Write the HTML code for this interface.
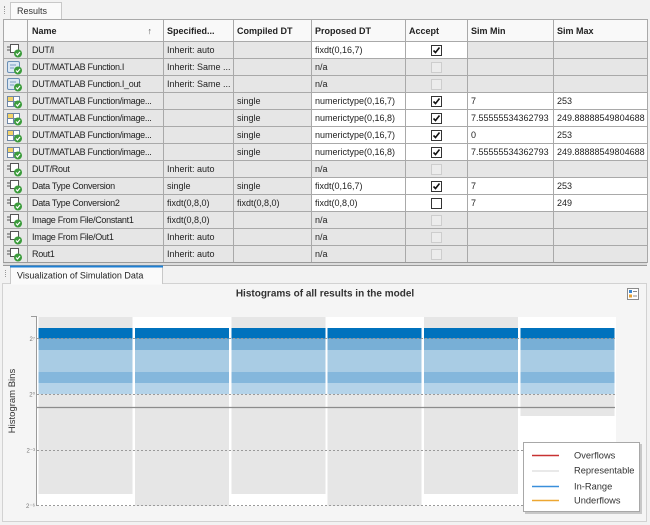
<!DOCTYPE html>
<html><head><meta charset="utf-8">
<style>
html,body{margin:0;padding:0}
body{width:650px;height:525px;overflow:hidden;background:#f2f2f2;position:relative;font-family:"Liberation Sans",Arial,sans-serif;color:#222}
.tab1{position:absolute;left:10px;top:2px;width:51px;height:17px;background:#fafafa;border:1px solid #c8c8c8;border-bottom:none;font-size:9px;line-height:17px;padding-left:6px;box-sizing:border-box;width:52px;color:#333}
.grip{position:absolute;width:1px;border-left:1px dotted #999}
table{position:absolute;left:3px;top:19px;width:644px;border-collapse:collapse;table-layout:fixed;border:1px solid #8f8f8f}
td,th{border:1px solid #a9a9a9;font-size:9px;white-space:nowrap;overflow:hidden;padding:0 0 0 3px;vertical-align:middle;text-align:left}
th{background:#f9f9f9;font-weight:bold;color:#222}
tr.h{height:22px}
tr.r{height:17px}
td{background:#e6e6e6;line-height:14px}
td.w{background:#fff}
td.n{padding-left:4px;letter-spacing:-0.3px}
td.i{padding:0 0 0 2px}
td.i svg{display:block}
td.c{padding:0;text-align:center}
td.c svg{display:block;margin:0 auto}
.arr{float:right;margin-right:11px;font-weight:bold;color:#555}
.split{position:absolute;left:3px;top:262px;width:644px;height:2px;background:#dcdcdc;border-top:1px solid #9a9a9a;border-bottom:1px solid #9a9a9a}
</style></head><body>

<div class="grip" style="left:4px;top:6px;height:8px"></div>
<div class="tab1">Results</div>

<table>
<colgroup><col style="width:24px"><col style="width:136px"><col style="width:70px"><col style="width:78px"><col style="width:94px"><col style="width:62px"><col style="width:86px"><col style="width:94px"></colgroup>
<tr class="h"><th></th><th style="padding-left:4px">Name<span class="arr">↑</span></th><th>Specified...</th><th>Compiled DT</th><th>Proposed DT</th><th>Accept</th><th>Sim Min</th><th>Sim Max</th></tr>

<tr class="r"><td class="i"><svg width="18" height="15" viewBox="0 0 18 15"><path d="M1 4h4M1 7h4" stroke="#555"/><rect x="4.5" y="1.5" width="8" height="8" fill="#fff" stroke="#555"/><circle cx="12" cy="10.5" r="4" fill="#3c9c3c"/><path d="M10 10.5l1.5 1.5 2.5-3" stroke="#fff" fill="none" stroke-width="1.2"/></svg></td><td class="n">DUT/I</td><td>Inherit: auto</td><td></td><td class="w">fixdt(0,16,7)</td><td class="c w"><svg width="11" height="11"><rect x="0.5" y="0.5" width="10" height="10" fill="#fff" stroke="#333"/><path d="M2.5 5.5l2 2 4-5" stroke="#111" stroke-width="1.6" fill="none"/></svg></td><td></td><td></td></tr>

<tr class="r"><td class="i"><svg width="18" height="15" viewBox="0 0 18 15"><rect x="1.5" y="1.5" width="12" height="11" rx="1.5" fill="#dbe7f3" stroke="#6a8fb5"/><path d="M4 5h6M4 8h4" stroke="#7a9cc0"/><circle cx="12" cy="10.5" r="4" fill="#3c9c3c"/><path d="M10 10.5l1.5 1.5 2.5-3" stroke="#fff" fill="none" stroke-width="1.2"/></svg></td><td class="n">DUT/MATLAB Function.I</td><td>Inherit: Same ...</td><td></td><td>n/a</td><td class="c"><svg width="11" height="11"><rect x="0.5" y="0.5" width="10" height="10" fill="#ececec" stroke="#cdcdcd"/></svg></td><td></td><td></td></tr>

<tr class="r"><td class="i"><svg width="18" height="15" viewBox="0 0 18 15"><rect x="1.5" y="1.5" width="12" height="11" rx="1.5" fill="#dbe7f3" stroke="#6a8fb5"/><path d="M4 5h6M4 8h4" stroke="#7a9cc0"/><circle cx="12" cy="10.5" r="4" fill="#3c9c3c"/><path d="M10 10.5l1.5 1.5 2.5-3" stroke="#fff" fill="none" stroke-width="1.2"/></svg></td><td class="n">DUT/MATLAB Function.I_out</td><td>Inherit: Same ...</td><td></td><td>n/a</td><td class="c"><svg width="11" height="11"><rect x="0.5" y="0.5" width="10" height="10" fill="#ececec" stroke="#cdcdcd"/></svg></td><td></td><td></td></tr>

<tr class="r"><td class="i"><svg width="18" height="15" viewBox="0 0 18 15"><rect x="1.5" y="2.5" width="12" height="10" fill="#fff" stroke="#6f86a3"/><rect x="2" y="3" width="5.5" height="4.5" fill="#f3d36a"/><rect x="7.5" y="7.5" width="5.5" height="4.5" fill="#8fb6e0"/><path d="M7.5 2.5v10M1.5 7.5h12" stroke="#6f86a3"/><circle cx="12" cy="10.5" r="4" fill="#3c9c3c"/><path d="M10 10.5l1.5 1.5 2.5-3" stroke="#fff" fill="none" stroke-width="1.2"/></svg></td><td class="n">DUT/MATLAB Function/image...</td><td></td><td>single</td><td class="w">numerictype(0,16,7)</td><td class="c w"><svg width="11" height="11"><rect x="0.5" y="0.5" width="10" height="10" fill="#fff" stroke="#333"/><path d="M2.5 5.5l2 2 4-5" stroke="#111" stroke-width="1.6" fill="none"/></svg></td><td class="w">7</td><td class="w">253</td></tr>

<tr class="r"><td class="i"><svg width="18" height="15" viewBox="0 0 18 15"><rect x="1.5" y="2.5" width="12" height="10" fill="#fff" stroke="#6f86a3"/><rect x="2" y="3" width="5.5" height="4.5" fill="#f3d36a"/><rect x="7.5" y="7.5" width="5.5" height="4.5" fill="#8fb6e0"/><path d="M7.5 2.5v10M1.5 7.5h12" stroke="#6f86a3"/><circle cx="12" cy="10.5" r="4" fill="#3c9c3c"/><path d="M10 10.5l1.5 1.5 2.5-3" stroke="#fff" fill="none" stroke-width="1.2"/></svg></td><td class="n">DUT/MATLAB Function/image...</td><td></td><td>single</td><td class="w">numerictype(0,16,8)</td><td class="c w"><svg width="11" height="11"><rect x="0.5" y="0.5" width="10" height="10" fill="#fff" stroke="#333"/><path d="M2.5 5.5l2 2 4-5" stroke="#111" stroke-width="1.6" fill="none"/></svg></td><td class="w">7.55555534362793</td><td class="w">249.88888549804688</td></tr>

<tr class="r"><td class="i"><svg width="18" height="15" viewBox="0 0 18 15"><rect x="1.5" y="2.5" width="12" height="10" fill="#fff" stroke="#6f86a3"/><rect x="2" y="3" width="5.5" height="4.5" fill="#f3d36a"/><rect x="7.5" y="7.5" width="5.5" height="4.5" fill="#8fb6e0"/><path d="M7.5 2.5v10M1.5 7.5h12" stroke="#6f86a3"/><circle cx="12" cy="10.5" r="4" fill="#3c9c3c"/><path d="M10 10.5l1.5 1.5 2.5-3" stroke="#fff" fill="none" stroke-width="1.2"/></svg></td><td class="n">DUT/MATLAB Function/image...</td><td></td><td>single</td><td class="w">numerictype(0,16,7)</td><td class="c w"><svg width="11" height="11"><rect x="0.5" y="0.5" width="10" height="10" fill="#fff" stroke="#333"/><path d="M2.5 5.5l2 2 4-5" stroke="#111" stroke-width="1.6" fill="none"/></svg></td><td class="w">0</td><td class="w">253</td></tr>

<tr class="r"><td class="i"><svg width="18" height="15" viewBox="0 0 18 15"><rect x="1.5" y="2.5" width="12" height="10" fill="#fff" stroke="#6f86a3"/><rect x="2" y="3" width="5.5" height="4.5" fill="#f3d36a"/><rect x="7.5" y="7.5" width="5.5" height="4.5" fill="#8fb6e0"/><path d="M7.5 2.5v10M1.5 7.5h12" stroke="#6f86a3"/><circle cx="12" cy="10.5" r="4" fill="#3c9c3c"/><path d="M10 10.5l1.5 1.5 2.5-3" stroke="#fff" fill="none" stroke-width="1.2"/></svg></td><td class="n">DUT/MATLAB Function/image...</td><td></td><td>single</td><td class="w">numerictype(0,16,8)</td><td class="c w"><svg width="11" height="11"><rect x="0.5" y="0.5" width="10" height="10" fill="#fff" stroke="#333"/><path d="M2.5 5.5l2 2 4-5" stroke="#111" stroke-width="1.6" fill="none"/></svg></td><td class="w">7.55555534362793</td><td class="w">249.88888549804688</td></tr>

<tr class="r"><td class="i"><svg width="18" height="15" viewBox="0 0 18 15"><path d="M1 4h4M1 7h4" stroke="#555"/><rect x="4.5" y="1.5" width="8" height="8" fill="#fff" stroke="#555"/><circle cx="12" cy="10.5" r="4" fill="#3c9c3c"/><path d="M10 10.5l1.5 1.5 2.5-3" stroke="#fff" fill="none" stroke-width="1.2"/></svg></td><td class="n">DUT/Rout</td><td>Inherit: auto</td><td></td><td>n/a</td><td class="c"><svg width="11" height="11"><rect x="0.5" y="0.5" width="10" height="10" fill="#ececec" stroke="#cdcdcd"/></svg></td><td></td><td></td></tr>

<tr class="r"><td class="i"><svg width="18" height="15" viewBox="0 0 18 15"><path d="M1 4h4M1 7h4" stroke="#555"/><rect x="4.5" y="1.5" width="8" height="8" fill="#fff" stroke="#555"/><circle cx="12" cy="10.5" r="4" fill="#3c9c3c"/><path d="M10 10.5l1.5 1.5 2.5-3" stroke="#fff" fill="none" stroke-width="1.2"/></svg></td><td class="n">Data Type Conversion</td><td>single</td><td>single</td><td class="w">fixdt(0,16,7)</td><td class="c w"><svg width="11" height="11"><rect x="0.5" y="0.5" width="10" height="10" fill="#fff" stroke="#333"/><path d="M2.5 5.5l2 2 4-5" stroke="#111" stroke-width="1.6" fill="none"/></svg></td><td class="w">7</td><td class="w">253</td></tr>

<tr class="r"><td class="i"><svg width="18" height="15" viewBox="0 0 18 15"><path d="M1 4h4M1 7h4" stroke="#555"/><rect x="4.5" y="1.5" width="8" height="8" fill="#fff" stroke="#555"/><circle cx="12" cy="10.5" r="4" fill="#3c9c3c"/><path d="M10 10.5l1.5 1.5 2.5-3" stroke="#fff" fill="none" stroke-width="1.2"/></svg></td><td class="n">Data Type Conversion2</td><td>fixdt(0,8,0)</td><td>fixdt(0,8,0)</td><td class="w">fixdt(0,8,0)</td><td class="c w"><svg width="11" height="11"><rect x="0.5" y="0.5" width="10" height="10" fill="#fff" stroke="#333"/></svg></td><td class="w">7</td><td class="w">249</td></tr>

<tr class="r"><td class="i"><svg width="18" height="15" viewBox="0 0 18 15"><path d="M1 4h4M1 7h4" stroke="#555"/><rect x="4.5" y="1.5" width="8" height="8" fill="#fff" stroke="#555"/><circle cx="12" cy="10.5" r="4" fill="#3c9c3c"/><path d="M10 10.5l1.5 1.5 2.5-3" stroke="#fff" fill="none" stroke-width="1.2"/></svg></td><td class="n">Image From File/Constant1</td><td>fixdt(0,8,0)</td><td></td><td>n/a</td><td class="c"><svg width="11" height="11"><rect x="0.5" y="0.5" width="10" height="10" fill="#ececec" stroke="#cdcdcd"/></svg></td><td></td><td></td></tr>

<tr class="r"><td class="i"><svg width="18" height="15" viewBox="0 0 18 15"><path d="M1 4h4M1 7h4" stroke="#555"/><rect x="4.5" y="1.5" width="8" height="8" fill="#fff" stroke="#555"/><circle cx="12" cy="10.5" r="4" fill="#3c9c3c"/><path d="M10 10.5l1.5 1.5 2.5-3" stroke="#fff" fill="none" stroke-width="1.2"/></svg></td><td class="n">Image From File/Out1</td><td>Inherit: auto</td><td></td><td>n/a</td><td class="c"><svg width="11" height="11"><rect x="0.5" y="0.5" width="10" height="10" fill="#ececec" stroke="#cdcdcd"/></svg></td><td></td><td></td></tr>

<tr class="r"><td class="i"><svg width="18" height="15" viewBox="0 0 18 15"><path d="M1 4h4M1 7h4" stroke="#555"/><rect x="4.5" y="1.5" width="8" height="8" fill="#fff" stroke="#555"/><circle cx="12" cy="10.5" r="4" fill="#3c9c3c"/><path d="M10 10.5l1.5 1.5 2.5-3" stroke="#fff" fill="none" stroke-width="1.2"/></svg></td><td class="n">Rout1</td><td>Inherit: auto</td><td></td><td>n/a</td><td class="c"><svg width="11" height="11"><rect x="0.5" y="0.5" width="10" height="10" fill="#ececec" stroke="#cdcdcd"/></svg></td><td></td><td></td></tr>
</table>

<div class="split"></div>

<svg width="650" height="525" style="position:absolute;left:0;top:0" font-family="Liberation Sans, Arial, sans-serif">
  <!-- panel -->
  <rect x="2.5" y="283.5" width="644" height="238" fill="#f5f5f5" stroke="#d2d2d2"/>
  <!-- tab -->
  <rect x="10.5" y="266.5" width="152" height="17" fill="#fafafa" stroke="#c8c8c8"/>
  <rect x="11" y="267" width="151" height="17.5" fill="#fafafa"/>
  <rect x="10" y="265.5" width="153" height="2" fill="#1e7fd2"/>
  <path d="M5.5 270v8" stroke="#999" stroke-dasharray="1,1"/>
  <text x="17" y="278.5" font-size="9" fill="#222">Visualization of Simulation Data</text>
  <!-- title -->
  <text x="325" y="296.5" font-size="10" font-weight="bold" fill="#333" text-anchor="middle">Histograms of all results in the model</text>
  <!-- legend icon -->
  <rect x="627.5" y="288.5" width="11" height="11" fill="#fff" stroke="#8a8a8a"/>
  <rect x="629" y="290" width="3" height="3" fill="#3a86d0"/>
  <path d="M633 291.5h4" stroke="#888"/>
  <rect x="629" y="294.5" width="3" height="3" fill="#e8a030"/>
  <path d="M633 296h4" stroke="#888"/>

  <!-- plot background -->
  <rect x="37" y="317" width="579" height="189" fill="#fff"/>

  <!-- column 1 -->
  <g>
    <rect x="38.5" y="317" width="94" height="11" fill="#e6e6e6"/>
    <rect x="38.5" y="328" width="94" height="10.5" fill="#0072bd"/>
    <rect x="38.5" y="338.5" width="94" height="11.5" fill="#78afd6"/>
    <rect x="38.5" y="350" width="94" height="22" fill="#a9cce4"/>
    <rect x="38.5" y="372" width="94" height="11" fill="#84b7dc"/>
    <rect x="38.5" y="383" width="94" height="11" fill="#b4d3e9"/>
    <rect x="38.5" y="394" width="94" height="100" fill="#e6e6e6"/>
  </g>
  <g>
    <rect x="135" y="317" width="94" height="11" fill="#fff"/>
    <rect x="135" y="328" width="94" height="10.5" fill="#0072bd"/>
    <rect x="135" y="338.5" width="94" height="11.5" fill="#78afd6"/>
    <rect x="135" y="350" width="94" height="22" fill="#a9cce4"/>
    <rect x="135" y="372" width="94" height="11" fill="#84b7dc"/>
    <rect x="135" y="383" width="94" height="11" fill="#b4d3e9"/>
    <rect x="135" y="394" width="94" height="112" fill="#e6e6e6"/>
  </g>
  <g>
    <rect x="231.5" y="317" width="94" height="11" fill="#e6e6e6"/>
    <rect x="231.5" y="328" width="94" height="10.5" fill="#0072bd"/>
    <rect x="231.5" y="338.5" width="94" height="11.5" fill="#78afd6"/>
    <rect x="231.5" y="350" width="94" height="22" fill="#a9cce4"/>
    <rect x="231.5" y="372" width="94" height="11" fill="#84b7dc"/>
    <rect x="231.5" y="383" width="94" height="11" fill="#b4d3e9"/>
    <rect x="231.5" y="394" width="94" height="100" fill="#e6e6e6"/>
  </g>
  <g>
    <rect x="327.5" y="317" width="94" height="11" fill="#fff"/>
    <rect x="327.5" y="328" width="94" height="10.5" fill="#0072bd"/>
    <rect x="327.5" y="338.5" width="94" height="11.5" fill="#78afd6"/>
    <rect x="327.5" y="350" width="94" height="22" fill="#a9cce4"/>
    <rect x="327.5" y="372" width="94" height="11" fill="#84b7dc"/>
    <rect x="327.5" y="383" width="94" height="11" fill="#b4d3e9"/>
    <rect x="327.5" y="394" width="94" height="112" fill="#e6e6e6"/>
  </g>
  <g>
    <rect x="424" y="317" width="94" height="11" fill="#e6e6e6"/>
    <rect x="424" y="328" width="94" height="10.5" fill="#0072bd"/>
    <rect x="424" y="338.5" width="94" height="11.5" fill="#78afd6"/>
    <rect x="424" y="350" width="94" height="22" fill="#a9cce4"/>
    <rect x="424" y="372" width="94" height="11" fill="#84b7dc"/>
    <rect x="424" y="383" width="94" height="11" fill="#b4d3e9"/>
    <rect x="424" y="394" width="94" height="100" fill="#e6e6e6"/>
  </g>
  <g>
    <rect x="520.5" y="317" width="94" height="11" fill="#fff"/>
    <rect x="520.5" y="328" width="94" height="10.5" fill="#0072bd"/>
    <rect x="520.5" y="338.5" width="94" height="11.5" fill="#78afd6"/>
    <rect x="520.5" y="350" width="94" height="22" fill="#a9cce4"/>
    <rect x="520.5" y="372" width="94" height="11" fill="#84b7dc"/>
    <rect x="520.5" y="383" width="94" height="11" fill="#b4d3e9"/>
    <rect x="520.5" y="394" width="94" height="22" fill="#e6e6e6"/>
  </g>

  <!-- grid lines -->
  <g stroke="#9a9a9a" stroke-dasharray="2,2" stroke-width="1">
    <path d="M37 338.5H615"/>
    <path d="M37 394.5H615"/>
    <path d="M37 450.5H615"/>
    <path d="M37 505.5H615"/>
  </g>
  <path d="M37 407.5H615" stroke="#8c8c8c" stroke-width="1.2"/>

  <!-- axis -->
  <path d="M36.5 316V506" stroke="#9a9a9a"/>
  <path d="M31 316.5H36.5" stroke="#9a9a9a"/>
  <g font-size="6" fill="#777" text-anchor="end">
    <text x="35" y="341">2⁷</text>
    <text x="35" y="396.5">2⁰</text>
    <text x="35" y="452.5">2⁻³</text>
    <text x="35" y="508">2⁻⁶</text>
  </g>
  <text x="15" y="401" font-size="9.5" fill="#333" text-anchor="middle" transform="rotate(-90 15 401)">Histogram Bins</text>

  <!-- legend -->
  <rect x="525" y="444" width="117" height="70" fill="#000" opacity="0.18"/>
  <rect x="523.5" y="442.5" width="116" height="69" fill="#fff" stroke="#a8a8a8"/>
  <path d="M532 455.5H559" stroke="#c83232" stroke-width="1.5"/>
  <path d="M532 471H559" stroke="#e2e2e2" stroke-width="1.5"/>
  <path d="M532 486.5H559" stroke="#3a8fdb" stroke-width="1.5"/>
  <path d="M532 500.5H559" stroke="#eda732" stroke-width="1.5"/>
  <g font-size="9.3" fill="#333">
    <text x="574" y="458.5">Overflows</text>
    <text x="574" y="473.5">Representable</text>
    <text x="574" y="489.5">In-Range</text>
    <text x="574" y="503.5">Underflows</text>
  </g>
</svg>
</body></html>
